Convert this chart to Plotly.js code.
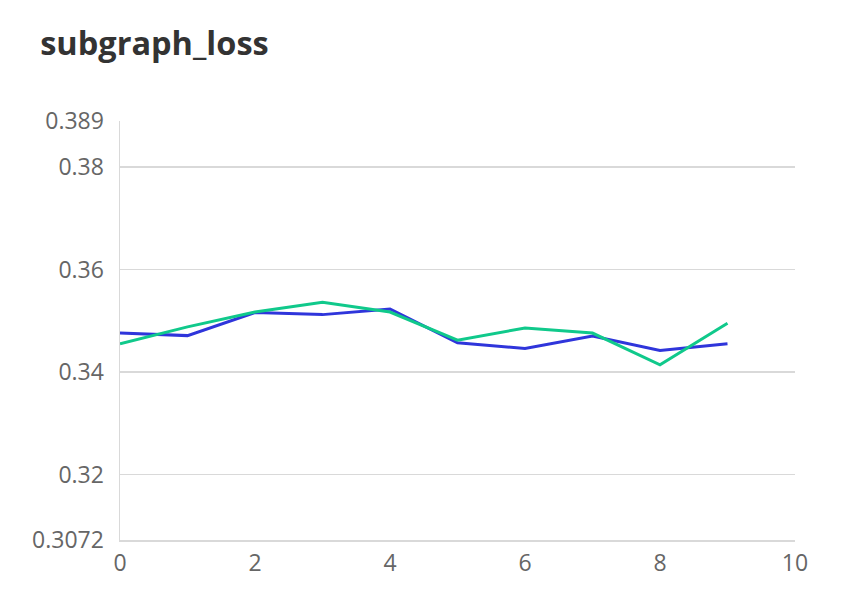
<!DOCTYPE html>
<html>
<head>
<meta charset="utf-8">
<script src="https://cdn.plot.ly/plotly-3.0.1.min.js"></script>
<style>html,body{margin:0;padding:0;background:#fff;}#chart{width:856px;height:602px;}</style>
</head>
<body>
<div id="chart"></div>
<script>
const steps = [0, 1, 2, 3, 4, 5, 6, 7, 8, 9];
const blueValues = [0.3476, 0.3471, 0.3516, 0.3512, 0.3523, 0.3457, 0.3446, 0.3470, 0.3442, 0.3455];
const greenValues = [0.3455, 0.3488, 0.3517, 0.3536, 0.3517, 0.3462, 0.3486, 0.3476, 0.3414, 0.3495];
const yTickVals = [0.3072, 0.32, 0.34, 0.36, 0.38, 0.389];
const yTickText = ['0.3072', '0.32', '0.34', '0.36', '0.38', '0.389'];
const xTickVals = [0, 2, 4, 6, 8, 10];

const traces = [
  {x: steps, y: blueValues, type: 'scatter', mode: 'lines', name: 'blue',
   line: {color: '#2f35db', width: 3}},
  {x: steps, y: greenValues, type: 'scatter', mode: 'lines', name: 'green',
   line: {color: '#10c98b', width: 3}}
];

const layout = {
  width: 856, height: 602,
  margin: {l: 120, r: 61, t: 121, b: 62},
  paper_bgcolor: '#fff', plot_bgcolor: '#fff',
  showlegend: false,
  font: {family: 'Open Sans, Noto Sans, sans-serif', color: '#666'},
  title: {text: '<b>subgraph_loss</b>', x: 0.047, xanchor: 'left', y: 0.927, yanchor: 'middle',
          font: {size: 32.5, color: '#333', family: 'Open Sans, Noto Sans, sans-serif'}},
  xaxis: {range: [0, 10], tickvals: xTickVals, ticktext: xTickVals.map(String),
          showgrid: false, zeroline: false, showline: true, linecolor: '#d9d9d9', linewidth: 1.5,
          ticks: '', tickfont: {size: 23, color: '#666'}, ticklabelstandoff: 2},
  yaxis: {range: [0.3072, 0.389], tickvals: yTickVals, ticktext: yTickText,
          showgrid: true, gridcolor: '#d9d9d9', gridwidth: 1.5, zeroline: false,
          showline: true, linecolor: '#d9d9d9', linewidth: 1.5,
          ticks: '', tickfont: {size: 23, color: '#666'}, ticklabelstandoff: 10}
};

Plotly.newPlot('chart', traces, layout, {displayModeBar: false, staticPlot: true});
</script>
</body>
</html>
